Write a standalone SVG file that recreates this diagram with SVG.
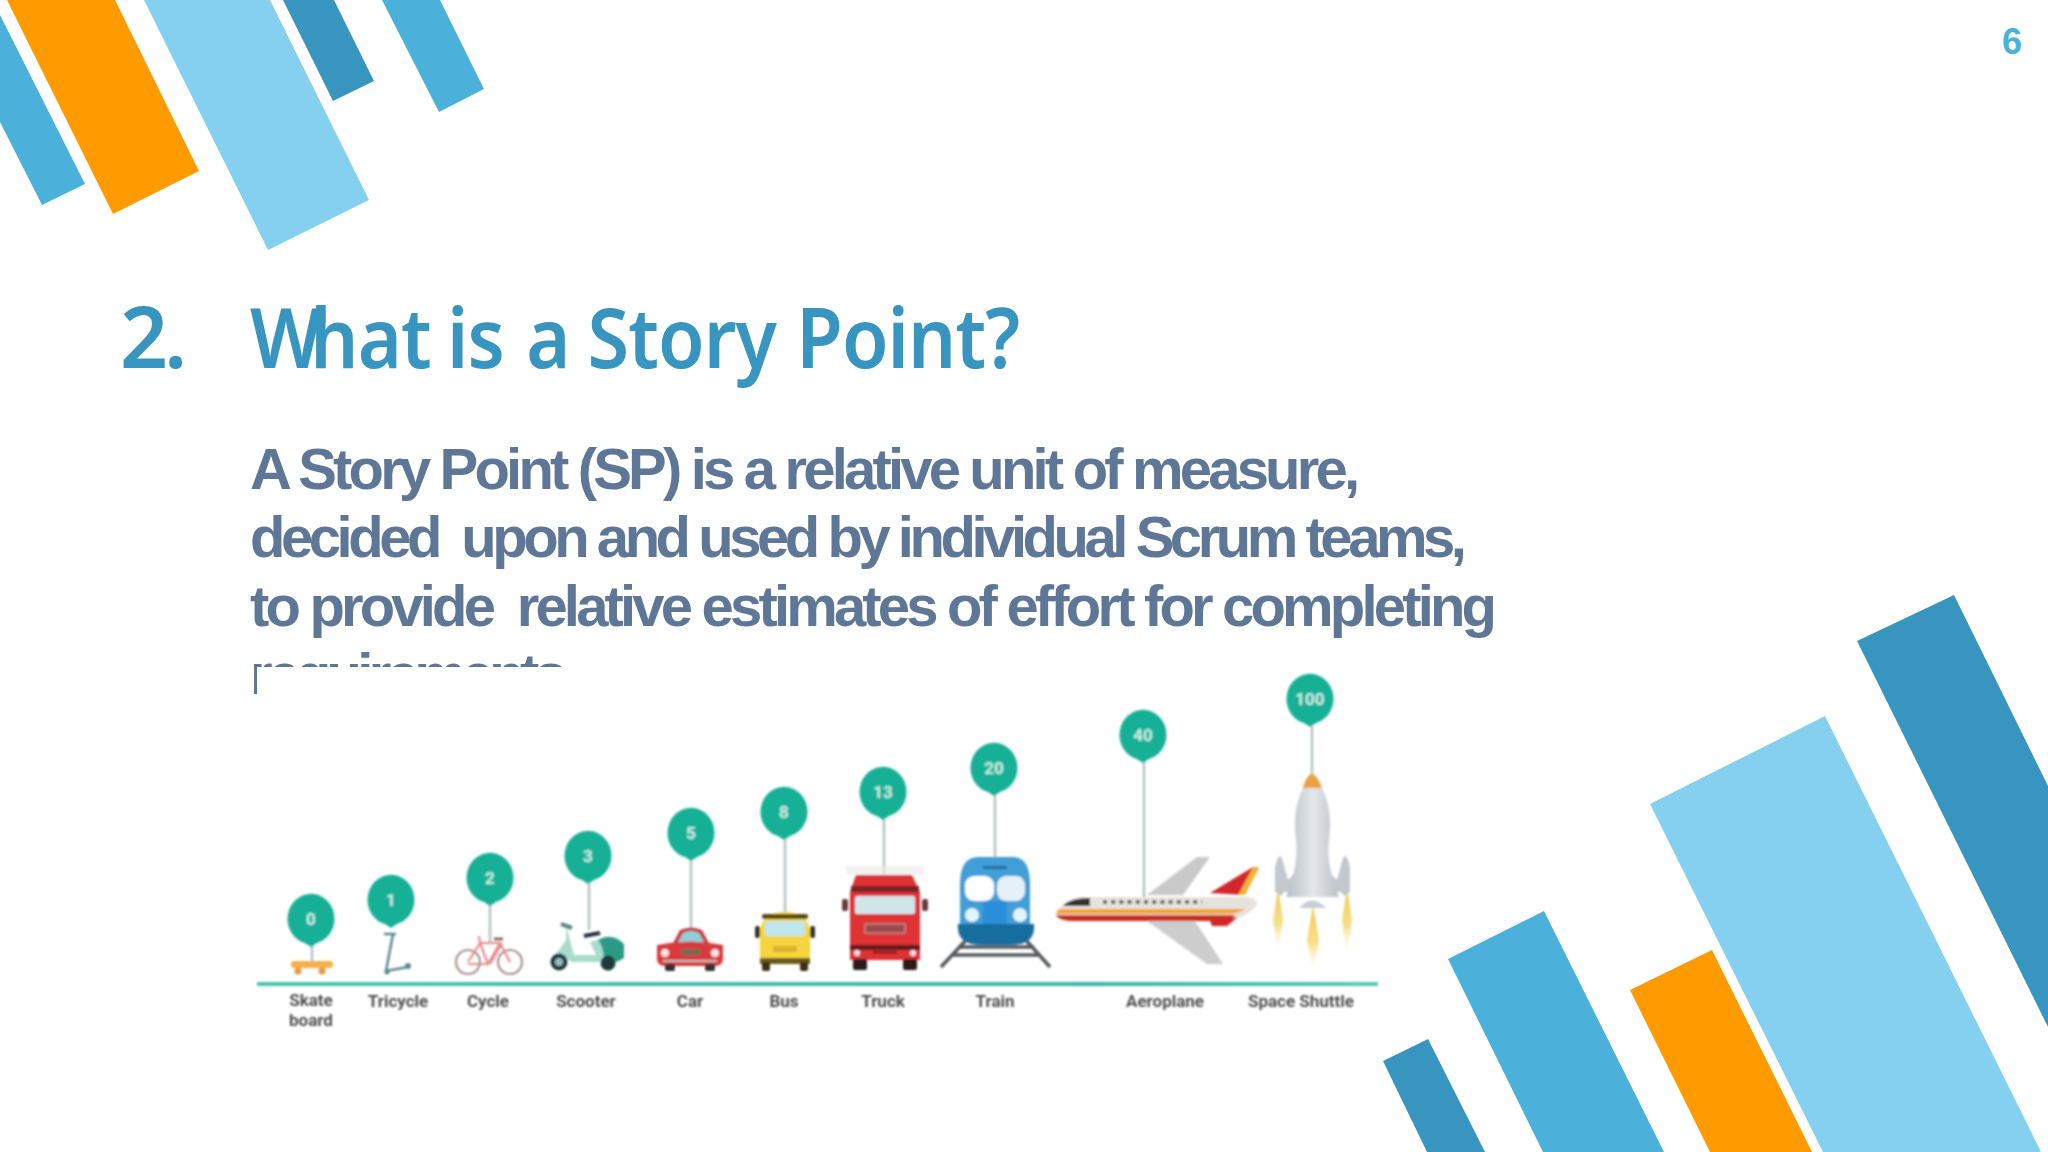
<svg xmlns="http://www.w3.org/2000/svg" width="2048" height="1152" viewBox="0 0 2048 1152">
<style>
.dark{fill:#3895bf}.blue{fill:#4cb1da}.light{fill:#84d0ee}.orange{fill:#ff9a00}
.title{font-family:"Noto Sans","Open Sans",sans-serif;font-size:84px;fill:#3895bf;font-weight:600}
.body{font-family:"Liberation Sans",Arial,sans-serif;font-weight:700;font-size:58px;fill:#5f7797}
.lab{font-family:Roboto,"Liberation Sans",sans-serif;font-weight:700;font-size:17px;fill:#505050;text-anchor:middle}
.num{font-family:Roboto,"Liberation Sans",sans-serif;font-weight:700;font-size:17px;fill:#c8efe6;text-anchor:middle}
.pole{stroke:#b5c2c2;stroke-width:2.5;fill:none}
.pin{fill:#17b096}
</style>
<defs>
<path id="p" d="M-23.500 0A23.500 25 0 1 1 6 24L0 28L-6 24A23.500 25 0 0 1 -23.500 0Z"/>
<filter id="soft" x="-5%" y="-5%" width="110%" height="110%"><feGaussianBlur stdDeviation="0.85"/></filter>
<linearGradient id="fl" x1="0" y1="0" x2="0" y2="1"><stop offset="0" stop-color="#f2c94e"/><stop offset="0.55" stop-color="#f6e08e"/><stop offset="1" stop-color="#fff" stop-opacity="0"/></linearGradient>
<linearGradient id="rk" x1="0" y1="0" x2="1" y2="0"><stop offset="0" stop-color="#b9bfc6"/><stop offset="0.5" stop-color="#e4e7ea"/><stop offset="1" stop-color="#bcc2c8"/></linearGradient>
<linearGradient id="base" x1="0" y1="0" x2="1" y2="0"><stop offset="0" stop-color="#49c6aa"/><stop offset="0.75" stop-color="#3cb5ad"/><stop offset="1" stop-color="#55cbb0"/></linearGradient>
</defs>
<rect width="2048" height="1152" fill="#fff"/>

<g id="decor-top-left">
<polygon class="blue" points="0,15 85,184 42,205 0,122"/>
<polygon class="orange" points="7,0 115,0 199,171 113,214"/>
<polygon class="light" points="144,0 270,0 369,200 268,250"/>
<polygon class="dark" points="283,0 334,0 374,81 333,101"/>
<polygon class="blue" points="382,0 440,0 484,89 439,112"/>
</g>
<g id="decor-bottom-right">
<polygon class="dark" points="1954,595 1857,641 2048,1027 2048,786"/>
<polygon class="light" points="1825,716 1650,804 1823,1152 2041,1152"/>
<polygon class="blue" points="1544,911 1448,959 1543,1152 1664,1152"/>
<polygon class="orange" points="1712,950 1630,990 1710,1152 1812,1152"/>
<polygon class="dark" points="1428,1039 1383,1061 1427,1152 1485,1152"/>
</g>

<text id="page-number" x="2002" y="54" font-family="Liberation Sans,Arial,sans-serif" font-weight="700" font-size="36" fill="#4cb1da">6</text>
<g id="title">
<text class="title" x="120" y="368" letter-spacing="-4">2.</text>
<text class="title" transform="translate(250 368) scale(.9 1)" letter-spacing="-1"><tspan x="0" y="0" dx="0 -12">What</tspan><tspan x="219">is</tspan><tspan x="307">a</tspan><tspan x="375">Story</tspan><tspan x="607">Point?</tspan></text>
</g>
<g id="body">
<text class="body" x="250" y="489" textLength="1110">A Story Point (SP) is a relative unit of measure,</text>
<text class="body" x="250" y="557" textLength="1217" xml:space="preserve">decided  upon and used by individual Scrum teams,</text>
<text class="body" x="250" y="626" textLength="1247" xml:space="preserve">to provide  relative estimates of effort for completing</text>
<text class="body" x="250" y="694" textLength="317">requirements</text>
</g>

<rect id="image-bg" x="257" y="667" width="1123" height="380" fill="#fff"/>

<g id="scale" filter="url(#soft)">
<rect id="baseline" x="257" y="982" width="1121" height="4" fill="url(#base)"/>

<g id="connectors">
<path class="pole" d="M312 945V964M490 905V942M589 883V930M691 860V930M785 839V935M884 819V876M995 795V858M1144 762V897M1312 726V776"/>
</g>

<g id="skateboard">
<rect x="291" y="961" width="42" height="7" rx="3" fill="#f5b04a"/>
<circle cx="298" cy="971" r="3.500" fill="#e9994a"/><circle cx="322" cy="971" r="3.500" fill="#e9994a"/>
<use href="#p" class="pin" x="311" y="919"/><text class="num" x="311" y="925">0</text>
<text class="lab" x="311" y="1006">Skate</text><text class="lab" x="311" y="1026">board</text>
</g>
<g id="tricycle">
<path d="M384 934H396M393 934L386 971L408 967" fill="none" stroke="#5b8a92" stroke-width="2.500"/>
<circle cx="387" cy="972" r="2.500" fill="#5b8a92"/><circle cx="408" cy="966" r="3" fill="#5b8a92"/>
<use href="#p" class="pin" x="391" y="900"/><text class="num" x="391" y="906">1</text>
<text class="lab" x="398" y="1007">Tricycle</text>
</g>
<g id="cycle">
<g fill="none" stroke="#a89090" stroke-width="2.200"><circle cx="468" cy="962" r="12"/><circle cx="510" cy="962" r="12"/></g>
<path d="M468 962L480 943H500L510 962M480 943L488 964L500 943M488 964H468M479 936L480 943M490 964L502 943" fill="none" stroke="#e88b8b" stroke-width="2.200"/>
<path d="M494 939H503" stroke="#8a6b6b" stroke-width="3"/>
<use href="#p" class="pin" x="490" y="878"/><text class="num" x="490" y="884">2</text>
<text class="lab" x="488" y="1007">Cycle</text>
</g>
<g id="scooter">
<path d="M566 925L574 955H596L590 942L604 938L620 942L620 960L600 962L572 962L556 954L566 940Z" fill="#a9dccd"/>
<path d="M598 940Q612 932 624 944V958Q612 966 604 960Q604 948 598 940Z" fill="#2a9c86"/>
<path d="M584 936L600 933" stroke="#234" stroke-width="4"/>
<path d="M561 924L572 928" stroke="#5b8a80" stroke-width="4"/>
<circle cx="559" cy="962" r="8.500" fill="#1f3a3a"/><circle cx="559" cy="962" r="4" fill="#9bb"/>
<circle cx="608" cy="963" r="7.500" fill="#1f3a3a"/>
<use href="#p" class="pin" x="588" y="856"/><text class="num" x="588" y="862">3</text>
<text class="lab" x="586" y="1007">Scooter</text>
</g>
<g id="car">
<path d="M672 945L680 930Q691 925 702 930L710 945Z" fill="#c9414a"/>
<path d="M677 944L683 933Q691 929 699 933L705 944Z" fill="#8fd0d4"/>
<path d="M657 945Q690 938 723 945L723 960Q722 966 714 966H666Q658 966 657 960Z" fill="#d93a3e"/>
<circle cx="665" cy="953" r="4" fill="#f8e6e0"/><circle cx="715" cy="953" r="4" fill="#f8e6e0"/>
<rect x="681" y="949" width="19" height="6" fill="#7a6a50"/>
<rect x="665" y="964" width="10" height="7" rx="2" fill="#333"/><rect x="705" y="964" width="10" height="7" rx="2" fill="#333"/>
<rect x="663" y="960" width="54" height="2" fill="#b7bcc0"/>
<use href="#p" class="pin" x="691" y="833"/><text class="num" x="691" y="839">5</text>
<text class="lab" x="690" y="1007">Car</text>
</g>
<g id="bus">
<path d="M760 934Q760 912 785 912Q810 912 810 934V964H760Z" fill="#f6d43c"/>
<rect x="762" y="914" width="46" height="5" rx="2" fill="#5b4a1c"/>
<rect x="765" y="921" width="40" height="15" rx="2" fill="#bfe6ea"/>
<rect x="755" y="926" width="5" height="12" rx="2" fill="#333"/><rect x="810" y="926" width="5" height="12" rx="2" fill="#333"/>
<rect x="773" y="946" width="24" height="6" fill="#d9b32f"/>
<rect x="760" y="958" width="50" height="6" fill="#6b5a1f"/>
<rect x="762" y="962" width="8" height="9" rx="2" fill="#3b3016"/><rect x="800" y="962" width="8" height="9" rx="2" fill="#3b3016"/>
<use href="#p" class="pin" x="784" y="812"/><text class="num" x="784" y="818">8</text>
<text class="lab" x="784" y="1007">Bus</text>
</g>
<g id="truck">
<rect x="846" y="866" width="78" height="9" fill="#ececec" opacity="0.7"/>
<path d="M856 875H912L920 892V960H850V892Z" fill="#de3334"/>
<rect x="851" y="886" width="68" height="6" fill="#7c2326"/>
<rect x="855" y="896" width="60" height="18" rx="2" fill="#cfe5ea"/>
<rect x="842" y="899" width="6" height="12" rx="2" fill="#6a3a3a"/><rect x="922" y="899" width="6" height="12" rx="2" fill="#6a3a3a"/>
<rect x="865" y="924" width="40" height="9" fill="#9a4a4a" stroke="#caa" stroke-width="1"/>
<rect x="850" y="945" width="70" height="5" fill="#5b1a1c"/>
<circle cx="857" cy="953" r="3" fill="#fde"/><circle cx="913" cy="953" r="3" fill="#fde"/>
<rect x="873" y="949" width="24" height="5" fill="#a32024"/>
<rect x="853" y="959" width="14" height="11" rx="2" fill="#2a1b1b"/><rect x="903" y="959" width="14" height="11" rx="2" fill="#2a1b1b"/>
<use href="#p" class="pin" x="883" y="792"/><text class="num" x="883" y="798">13</text>
<text class="lab" x="883" y="1007">Truck</text>
</g>
<g id="train">
<path d="M968 938L941 967M1024 938L1050 967M958 947H1034M952 955H1040" fill="none" stroke="#55595c" stroke-width="3.500"/>
<path d="M960 885Q960 857 978 857H1013Q1030 857 1030 885V928H960Z" fill="#3f9fd6"/>
<rect x="983" y="866" width="24" height="3" fill="#1f6f9c"/>
<rect x="965" y="876" width="29" height="25" rx="9" fill="#fff"/><rect x="997" y="876" width="28" height="25" rx="9" fill="#e6f0f8"/>
<circle cx="972" cy="915" r="7" fill="#e3f6fc"/><circle cx="1020" cy="915" r="7" fill="#e3f6fc"/>
<rect x="983" y="901" width="24" height="25" fill="#2c8fd8"/>
<path d="M958 924H1034Q1036 945 1010 945H982Q956 945 958 924Z" fill="#156d9e"/>
<use href="#p" class="pin" x="994" y="768"/><text class="num" x="994" y="774">20</text>
<text class="lab" x="995" y="1007">Train</text>
</g>
<g id="aeroplane">
<polygon points="1147,895 1197,857 1210,857 1183,895" fill="#c9c9c9"/>
<polygon points="1147,921 1195,921 1223,964 1207,964" fill="#cdcdcd"/>
<polygon points="1210,893 1253,867 1259,868 1243,895" fill="#d4282a"/>
<polygon points="1253,867 1259,868 1245,895 1238,895" fill="#efb23a"/>
<path d="M1056 914Q1062 900 1080 897H1245Q1258 897 1257 905Q1250 915 1230 921H1070Q1056 920 1056 914Z" fill="#e6e3de"/>
<path d="M1056 914Q1057 909 1062 909H1245Q1240 913 1230 914H1160Z" fill="#f2a531"/>
<path d="M1056 915H1235Q1232 918 1230 921H1070Q1058 920 1056 915Z" fill="#c92f1c"/>
<polygon points="1210,921 1238,917 1227,926 1212,926" fill="#d4282a"/>
<path d="M1063 906Q1070 898 1090 898V906Z" fill="#333"/>
<path d="M1103 902H1202" stroke="#555" stroke-width="3.500" stroke-dasharray="4 4.200"/>
<use href="#p" class="pin" x="1143" y="735"/><text class="num" x="1143" y="741">40</text>
<text class="lab" x="1165" y="1007">Aeroplane</text>
</g>
<g id="space-shuttle">
<polygon points="1278,888 1273,920 1278,955 1283,920" fill="url(#fl)"/>
<polygon points="1313,905 1307,940 1313,975 1319,940" fill="url(#fl)"/>
<polygon points="1347,888 1342,920 1347,958 1352,920" fill="url(#fl)"/>
<path d="M1275 892V868Q1278 852 1282 858L1288 880L1300 868V892H1284L1281 896Z" fill="#c3c8ce"/>
<path d="M1350 892V868Q1347 852 1343 858L1337 880L1325 868V892H1341L1344 896Z" fill="#c3c8ce"/>
<path d="M1312 773Q1319 778 1322 788Q1333 810 1329 840Q1326 865 1339 897H1286Q1299 865 1296 840Q1292 810 1303 788Q1305 778 1312 773Z" fill="url(#rk)"/>
<path d="M1312 773Q1319 778 1322 788H1303Q1305 778 1312 773Z" fill="#eba23f"/>
<path d="M1299 908Q1312 893 1326 908Z" fill="#c9ced3"/>
<use href="#p" class="pin" x="1310" y="699"/><text class="num" x="1310" y="705">100</text>
<text class="lab" x="1301" y="1007">Space Shuttle</text>
</g>
</g>
</svg>
